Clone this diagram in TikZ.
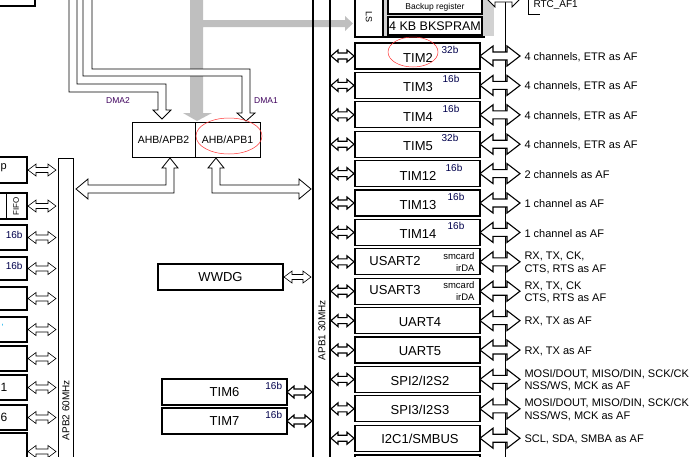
\documentclass[tikz,border=0pt]{standalone}
\usepackage{fontspec}
\setmainfont{Liberation Sans}
\begin{document}
\begin{tikzpicture}[x=1pt,y=-1pt,
  box/.style={draw,line width=1.2pt,fill=white},
  lbl/.style={font=\fontsize{11}{12}\selectfont,anchor=west,align=left},
  nm/.style={font=\fontsize{13}{14}\selectfont},
  bits/.style={font=\fontsize{10}{11}\selectfont,text=blue!30!black},
  dma/.style={font=\fontsize{8.5}{9}\selectfont,text=red!40!blue!60!black},
  ha/.style={draw,fill=white,line width=0.8pt,line join=miter}]
\newcommand\dbarrow[7]{% x1 x2 y halfshaft halfhead headlen linewidth
  \draw[ha,line width=#7] (#1,#3) -- ({#1+#6},{#3-#5}) -- ({#1+#6},{#3-#4}) -- ({#2-#6},{#3-#4}) -- ({#2-#6},{#3-#5}) -- (#2,#3) -- ({#2-#6},{#3+#5}) -- ({#2-#6},{#3+#4}) -- ({#1+#6},{#3+#4}) -- ({#1+#6},{#3+#5}) -- cycle;}
\useasboundingbox (0,0) rectangle (696,456);
\clip (0,0) rectangle (696,456);
% gray arrow
\fill[gray!50] (190,-2) -- (190,113) -- (183,113) -- (197,121) -- (212,113) -- (203,113) -- (203,27) -- (345,27) -- (345,31) -- (353,23.5) -- (345,16) -- (345,20) -- (203,20) -- (203,-2) -- cycle;
% top-left partial box
\draw[box] (-5,-5) rectangle (35,6);
% DMA arrows
\draw[ha] (69,-2) -- (69,92) -- (158,92) -- (158,110) -- (153,110) -- (162,119) -- (171,110) -- (166,110) -- (166,84) -- (77,84) -- (77,-2);
\draw[ha] (83,-2) -- (83,76) -- (242,76) -- (242,113) -- (237,113) -- (246,121) -- (255,113) -- (250,113) -- (250,69) -- (92,69) -- (92,-2);
\node[dma] (dma2) at (118,101) {DMA2};
\node[dma] (dma1) at (266,101) {DMA1};
% AHB/APB bridges
\node[draw,line width=1pt,minimum width=63,minimum height=35,inner sep=0,font=\fontsize{10.5}{11}\selectfont] (apb2) at (163.5,139.5) {AHB/APB2};
\node[draw,line width=1pt,minimum width=65,minimum height=35,inner sep=0,font=\fontsize{10.5}{11}\selectfont] (apb1) at (227.5,139.5) {AHB/APB1};
\draw[red!80,line width=0.5pt] (229,136) ellipse [x radius=33,y radius=18];
% buses
\draw[line width=0.8pt,fill=white] (58,158) rectangle (73,460);
\node[rotate=90,font=\fontsize{10}{11}\selectfont] (apb2lbl) at (66,410) {APB2 60MHz};
\draw[line width=1.5pt] (313,-2) -- (313,460);
\draw[line width=1.5pt] (330,-2) -- (330,460);
\node[rotate=90,font=\fontsize{10}{11}\selectfont] (apb1lbl) at (322,330) {APB1 30MHz};
% bridge to bus arrows
\draw[ha] (170,158) -- (178,168) -- (174,168) -- (174,193) -- (88,193) -- (88,199) -- (76,189) -- (88,179) -- (88,185) -- (166,185) -- (166,168) -- (162,168) -- cycle;
\draw[ha] (216,158) -- (224,168) -- (220,168) -- (220,185) -- (299,185) -- (299,179) -- (311,189) -- (299,199) -- (299,193) -- (212,193) -- (212,168) -- (208,168) -- cycle;
% left APB2 peripherals (cut off)
\foreach \tp/\bt in {157/183,193/219,225/250,257/280,287/310,317/342,346/371,375/400,405/430,433/470}{
  \pgfmathsetmacro\ym{(\tp+\bt)/2}
  \draw[box] (-5,\tp) rectangle (27,\bt);
  \dbarrow{28}{56}{\ym}{2.5}{6}{8}{0.6pt}}
\draw[line width=1pt] (6,193) -- (6,219);
\node[rotate=90,font=\fontsize{8}{9}\selectfont] (fifo) at (16,206) {FIFO};
\node[font=\fontsize{11}{12}\selectfont,anchor=west,inner sep=0] (p1) at (0.5,168) {p};
\node[bits,anchor=east] (b3) at (26,235) {16b};
\node[bits,anchor=east] (b4) at (26,266) {16b};
\node[font=\fontsize{9}{10}\selectfont,text=cyan,anchor=west] (c7) at (-2,327) {'};
\node[font=\fontsize{12}{13}\selectfont,anchor=west,inner sep=0] (t8) at (0.5,387) {1};
\node[font=\fontsize{12}{13}\selectfont,anchor=west,inner sep=0] (t9) at (0.5,417) {6};
% WWDG, TIM6, TIM7
\node[box,minimum width=125,minimum height=26,inner sep=0,nm] (wwdg) at (220.5,277) {WWDG};
\dbarrow{284}{311}{277}{2.5}{6}{8}{0.6pt}
\node[box,minimum width=125,minimum height=26,inner sep=0,nm] (tim6) at (224.5,392) {TIM6};
\node[bits,anchor=east] at (tim6.north east) [yshift=-8,xshift=-2] {16b};
\node[box,minimum width=125,minimum height=26,inner sep=0,nm] (tim7) at (224.5,421) {TIM7};
\node[bits,anchor=east] at (tim7.north east) [yshift=-8,xshift=-2] {16b};
\dbarrow{287}{312}{392}{3}{6}{7}{1.1pt}
\dbarrow{287}{312}{421}{3}{6}{7}{1.1pt}
% backup domain
\draw[line width=0.5pt] (505,-2) -- (505,460);
\fill[gray!35] (383,-5) rectangle (494,36);
\draw[line width=1.5pt] (355,-5) -- (355,37) -- (485,37);
\draw[line width=1.5pt] (383,-5) -- (383,37);
\node[draw,fill=white,line width=1.2pt,minimum width=94,minimum height=18,inner sep=0,font=\fontsize{12.5}{13}\selectfont] (bksp) at (435,26) {4 KB BKSPRAM};
\node[draw,fill=white,line width=1.2pt,minimum width=94,minimum height=16,inner sep=0,font=\fontsize{8.5}{9}\selectfont,text depth=0pt] (bkreg) at (435,6) {Backup register};
\node[rotate=-90,font=\fontsize{9}{10}\selectfont] (ls) at (369,17) {LS};
\dbarrow{487}{520}{-1}{3}{8}{8}{0.8pt}
\draw[line width=0.6pt] (528,0) -- (528,14) -- (540,14);
\node[lbl,font=\fontsize{10}{11}\selectfont] (rtc) at (530,5) {RTC\_AF1};
% APB1 peripherals
\foreach \i/\l in {0/{4 channels, ETR as AF},1/{4 channels, ETR as AF},2/{4 channels, ETR as AF},3/{4 channels, ETR as AF},4/{2 channels as AF},5/{1 channel as AF},6/{1 channel as AF},7/{RX, TX, CK,\\CTS, RTS as AF},8/{RX, TX, CK\\CTS, RTS as AF},9/{RX, TX as AF},10/{RX, TX as AF},11/{MOSI/DOUT, MISO/DIN, SCK/CK\\NSS/WS, MCK as AF},12/{MOSI/DOUT, MISO/DIN, SCK/CK\\NSS/WS, MCK as AF},13/{SCL, SDA, SMBA as AF}}{
  \pgfmathsetmacro\yt{43+29.4*\i}
  \pgfmathsetmacro\yc{\yt+13}
  \pgfmathsetmacro\yl{\yt+14}
  \pgfmathsetmacro\yb{\yt+26}
  \draw[box] (355,\yt) rectangle (480,\yb);
  \dbarrow{331}{354}{\yc}{3}{6}{7}{1.1pt}
  \dbarrow{480}{520}{\yc}{4}{10}{13}{1.1pt}
  \node[lbl,font=\fontsize{11}{12.5}\selectfont] at (521,\yl) {\l};
}
\foreach \i/\n/\bb/\x in {0/TIM2/32b/450,1/TIM3/16b/451,2/TIM4/16b/451,3/TIM5/32b/450,4/TIM12/16b/454,5/TIM13/16b/456,6/TIM14/16b/456}{
  \pgfmathsetmacro\yn{43+29.4*\i+15}
  \pgfmathsetmacro\ys{43+29.4*\i+7}
  \node[nm] at (418,\yn) {\n};
  \node[bits] at (\x,\ys) {\bb};
}
\foreach \i/\n in {9/UART4,10/UART5,11/SPI2\slash I2S2,12/SPI3\slash I2S3,13/I2C1\slash SMBUS}{
  \pgfmathsetmacro\yn{43+29.4*\i+14}
  \node[nm] at (420,\yn) {\n};
}
\foreach \i/\n in {7/USART2,8/USART3}{
  \pgfmathsetmacro\yn{43+29.4*\i+12}
  \pgfmathsetmacro\ya{43+29.4*\i+7}
  \pgfmathsetmacro\yr{43+29.4*\i+19}
  \node[nm] at (395,\yn) {\n};
  \node[font=\fontsize{9.5}{10}\selectfont,anchor=east] at (478,\ya) {smcard};
  \node[font=\fontsize{9.5}{10}\selectfont,anchor=east] at (478,\yr) {irDA};
}
\draw[box] (355,455) rectangle (480,480);
\draw[red!80,line width=0.5pt] (413,52) ellipse [x radius=25,y radius=15];
\end{tikzpicture}
\end{document}
